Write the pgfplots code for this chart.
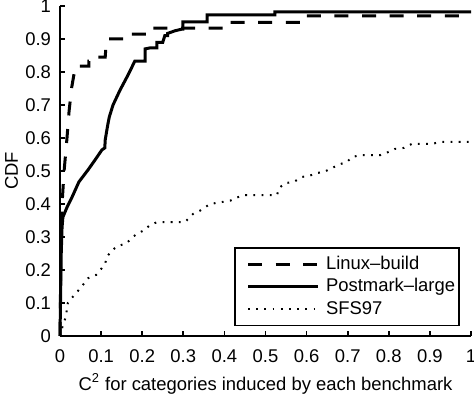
\documentclass[border=0pt]{standalone}
\usepackage{fontspec}
\setmainfont{Liberation Sans}
\usepackage{pgfplots}
\pgfplotsset{compat=1.18}
\begin{document}
\begin{tikzpicture}
\begin{axis}[
  scale only axis, width=205.5bp, height=165bp,
  xmin=0, xmax=1, ymin=0, ymax=1,
  enlargelimits=false,
  axis lines=left,
  axis line style={-, line width=0.8bp},
  tick align=inside,
  major tick length=2.5bp,
  tick style={line width=0.8bp, black},
  xtick={0,0.1,...,1.01}, ytick={0,0.1,...,1.01},
  font=\fontsize{9.25}{11}\selectfont,
  /pgf/number format/assume math mode=true,
  xticklabel style={yshift=-3.5bp},
  yticklabel style={xshift=-1bp},
  xlabel={C\textsuperscript{2} for categories induced by each benchmark},
  ylabel={CDF},
  xlabel style={at={(axis description cs:0.5,0)}, anchor=base, yshift=-27bp},
  ylabel style={at={(axis description cs:0,0.5)}, anchor=base, yshift=21bp},
  legend style={at={(rel axis cs:0.973,0.03)}, anchor=south east, draw=black, line width=0.8bp,
     font=\fontsize{9.25}{11}\selectfont, inner xsep=0bp, inner ysep=2.1bp, row sep=-1bp,
     column sep=0bp,
     cells={anchor=west, text height=6.7bp, text depth=2.05bp, inner ysep=1.5bp, inner xsep=3bp}},
  legend image code/.code={\path[draw=none] (0bp,0bp) -- (43.5bp,0bp); \draw[#1] (6.5bp,0bp) -- (41.5bp,0bp);},
  clip=false,
]
\addplot[black, line width=1.5bp, dash pattern=on 7bp off 6.8bp] coordinates {
(0,0) (0.002,0.25) (0.005,0.4) (0.01,0.5) (0.017,0.6) (0.022,0.68) (0.028,0.75) (0.035,0.8)
(0.043,0.8) (0.043,0.818) (0.07,0.818) (0.07,0.833) (0.092,0.833) (0.092,0.845) (0.11,0.845)
(0.113,0.9) (0.17,0.9) (0.17,0.915) (0.21,0.915) (0.21,0.933) (0.41,0.933) (0.41,0.95)
(0.584,0.95) (0.584,0.97) (1,0.97)};
\addlegendentry{Linux–build}
\addplot[black, line width=1.5bp] coordinates {
(0,0) (0.003,0.25) (0.005,0.33) (0.007,0.36) (0.017,0.39) (0.029,0.42) (0.046,0.467)
(0.068,0.503) (0.085,0.533) (0.102,0.564) (0.109,0.57) (0.11,0.594) (0.114,0.624)
(0.117,0.645) (0.12,0.664) (0.129,0.70) (0.146,0.745) (0.163,0.785) (0.175,0.815)
(0.182,0.833) (0.207,0.833) (0.207,0.87) (0.219,0.873) (0.236,0.873) (0.236,0.89)
(0.25,0.89) (0.255,0.91) (0.262,0.91) (0.262,0.917) (0.28,0.925) (0.297,0.93) (0.299,0.93)
(0.299,0.952) (0.358,0.952) (0.358,0.973) (0.523,0.973) (0.523,0.982) (1,0.982)};
\addlegendentry{Postmark–large}
\addplot[black, line width=1bp, dash pattern=on 0.9bp off 3.2bp] coordinates {
(0,0) (0.005,0.024) (0.012,0.05) (0.017,0.08) (0.019,0.10) (0.032,0.12) (0.044,0.137)
(0.056,0.155) (0.068,0.175) (0.088,0.185) (0.10,0.203) (0.11,0.22) (0.114,0.24)
(0.127,0.26) (0.141,0.273) (0.161,0.28) (0.175,0.297) (0.187,0.31) (0.204,0.32)
(0.219,0.336) (0.236,0.345) (0.304,0.345) (0.324,0.37) (0.341,0.38) (0.365,0.40)
(0.389,0.405) (0.414,0.41) (0.431,0.42) (0.45,0.427) (0.528,0.427) (0.533,0.448)
(0.547,0.463) (0.569,0.467) (0.589,0.482) (0.606,0.485) (0.625,0.494) (0.642,0.497)
(0.662,0.509) (0.679,0.52) (0.698,0.527) (0.71,0.542) (0.73,0.548) (0.779,0.548)
(0.80,0.558) (0.815,0.567) (0.837,0.57) (0.856,0.582) (0.905,0.582) (0.925,0.588) (1,0.588)};
\addlegendentry{SFS97}
\end{axis}
\pgfresetboundingbox
\path ([xshift=-30bp,yshift=-29.5bp]current axis.south west) rectangle ([xshift=1.5bp,yshift=3bp]current axis.north east);
\end{tikzpicture}
\end{document}
